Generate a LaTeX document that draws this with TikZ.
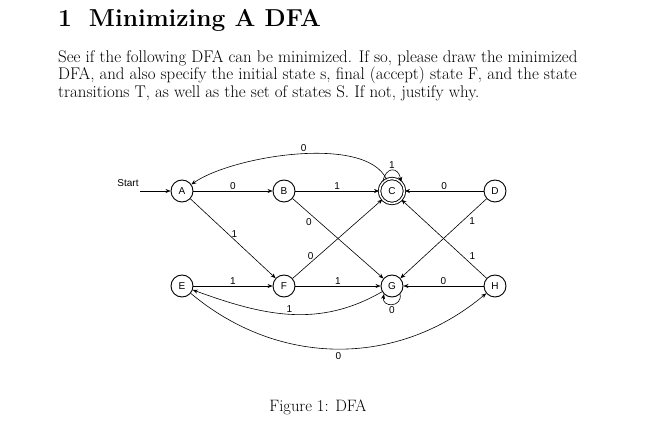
\documentclass[tikz,border=0pt]{standalone}
\usepackage{fontspec}
\newfontfamily\dsans{Liberation Sans}
\usetikzlibrary{arrows.meta,automata}
\begin{document}
\begin{tikzpicture}[x=1pt,y=-1pt,
  st/.style={circle,draw,line width=0.9pt,minimum size=22pt,inner sep=0pt,font=\dsans\fontsize{10}{10}\selectfont},
  ed/.style={-{Stealth[length=5pt,width=4pt]},line width=0.6pt},
  lb/.style={font=\dsans\fontsize{10}{10}\selectfont,inner sep=1.5pt}]
\useasboundingbox (0,0) rectangle (664,435);
\node[anchor=west,inner sep=0pt,font=\bfseries\fontsize{24.5}{28}\selectfont] (title) at (58,20) {1\hspace{17pt}Minimizing A DFA};
\node[anchor=north west,inner sep=0pt,align=left,font=\fontsize{16.9}{17.6}\selectfont] (para) at (58,50)
{See if the following DFA can be minimized. If so, please draw the minimized\\
DFA, and also specify the initial state s, final (accept) state F, and the state\\
transitions T, as well as the set of states S. If not, justify why.};
\node[font=\fontsize{16.5}{17}\selectfont,inner sep=0pt] (cap) at (318,407) {Figure 1: DFA};

\node[st] (A) at (182,191) {A};
\node[st] (B) at (284,191) {B};
\node[st,double,double distance=1.6pt,minimum size=25pt] (C) at (392,191) {C};
\node[st] (D) at (495,191) {D};
\node[st] (E) at (182,286) {E};
\node[st] (F) at (284,286) {F};
\node[st] (G) at (392,286) {G};
\node[st] (H) at (495,286) {H};
\coordinate (s) at (140,191);
\node[lb] (slab) at (128,183) {Start};

\draw[ed] (s) -- (A);
\draw[ed] (A) -- node[lb,above]{0} (B);
\draw[ed] (B) -- node[lb,above]{1} (C);
\draw[ed] (D) -- node[lb,above]{0} (C);
\draw[ed] (C) to[out=115,in=35,looseness=0.65] node[lb,above,pos=0.47]{0} (A);
\draw[ed] (C.135) to[out=80,in=100,looseness=2.2] node[lb,above]{1} (C.45);
\draw[ed] (A) -- node[lb,pos=0.45,right,xshift=1pt]{1} (F);
\draw[ed] (B) -- node[lb,pos=0.23,below left]{0} (G);
\draw[ed] (F) -- node[lb,pos=0.22,above left,xshift=3pt]{0} (C);
\draw[ed] (D) -- node[lb,pos=0.22,below right]{1} (G);
\draw[ed] (H) -- node[lb,pos=0.22,above right]{1} (C);
\draw[ed] (E) -- node[lb,above]{1} (F);
\draw[ed] (F) -- node[lb,above]{1} (G);
\draw[ed] (H) -- node[lb,above]{0} (G);
\draw[ed] (G) to[out=-150,in=-20] node[lb,above,pos=0.5]{1} (E);
\draw[ed] (G.-45) to[out=-80,in=-100,looseness=2.2] node[lb,below]{0} (G.-135);
\draw[ed] (E) to[out=-40,in=-140] node[lb,below,yshift=-2pt]{0} (H);
\end{tikzpicture}
\end{document}
